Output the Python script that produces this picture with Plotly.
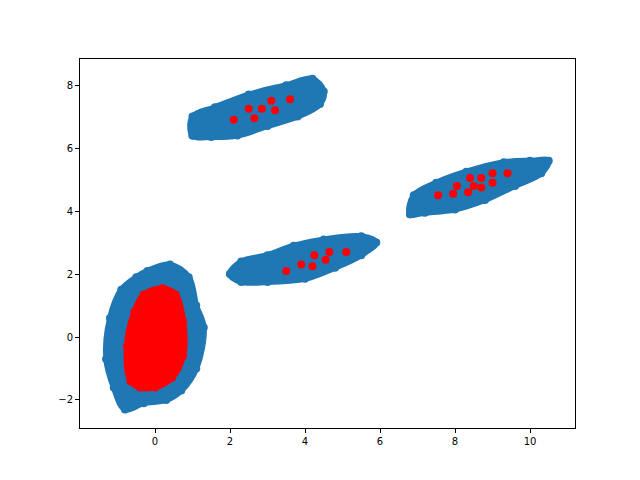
import plotly.graph_objects as go

# blue clouds drawn as their outline
cloud_a_x = [1.0, 1.0, 1.6, 2.5, 3.5, 4.2, 4.5, 4.4, 3.8, 3.0, 2.2, 1.5]
cloud_a_y = [6.4, 7.0, 7.3, 7.7, 8.0, 8.2, 7.8, 7.4, 7.0, 6.7, 6.4, 6.35]
cloud_b_x = [2.0, 2.3, 3.0, 3.7, 4.5, 5.5, 5.9, 5.5, 4.8, 4.0, 3.0, 2.3]
cloud_b_y = [2.0, 2.4, 2.6, 2.9, 3.1, 3.2, 3.0, 2.6, 2.2, 1.85, 1.75, 1.75]
cloud_c_x = [6.8, 6.9, 7.5, 8.3, 9.3, 10.0, 10.5, 10.3, 9.6, 8.8, 8.0, 7.2]
cloud_c_y = [3.9, 4.5, 4.9, 5.25, 5.55, 5.6, 5.6, 5.2, 4.8, 4.35, 4.05, 3.95]
cloud_d_x = [-1.3, -1.2, -0.9, -0.5, -0.2, 0.4, 0.9, 1.1, 1.3, 1.1, 0.7, 0.3, -0.3, -0.8, -1.1]
cloud_d_y = [-0.7, 0.6, 1.5, 1.9, 2.1, 2.3, 1.9, 1.0, 0.3, -1.0, -1.7, -2.0, -2.1, -2.3, -1.6]

# red blob in bottom-left cloud
red_blob_x = [-0.65, -0.75, -0.55, -0.3, 0.2, 0.55, 0.75, 0.75, 0.45, 0.0, -0.4]
red_blob_y = [-1.4, -0.3, 0.8, 1.35, 1.55, 1.35, 0.5, -0.6, -1.3, -1.6, -1.6]

# individual red points
red_x = [2.1, 2.5, 2.65, 2.85, 3.1, 3.2, 3.6,
         3.5, 3.9, 4.2, 4.25, 4.55, 4.65, 5.1,
         7.55, 7.95, 8.05, 8.35, 8.4, 8.5, 8.7, 8.7, 9.0, 9.0, 9.4]
red_y = [6.9, 7.25, 6.95, 7.25, 7.5, 7.2, 7.55,
         2.1, 2.3, 2.25, 2.6, 2.45, 2.7, 2.7,
         4.5, 4.55, 4.8, 4.6, 5.05, 4.8, 4.75, 5.05, 5.2, 4.9, 5.2]

blue = "#1f77b4"
fig = go.Figure()

def blob(xs, ys, color):
    fig.add_trace(go.Scatter(
        x=xs + xs[:1], y=ys + ys[:1], mode="lines+markers", fill="toself",
        fillcolor=color, line=dict(color=color, width=6, shape="spline"),
        marker=dict(color=color, size=8), showlegend=False, hoverinfo="skip"))

for xs, ys in [(cloud_a_x, cloud_a_y), (cloud_b_x, cloud_b_y),
               (cloud_c_x, cloud_c_y), (cloud_d_x, cloud_d_y)]:
    blob(xs, ys, blue)
blob(red_blob_x, red_blob_y, "red")

fig.add_trace(go.Scatter(x=red_x, y=red_y, mode="markers",
                         marker=dict(color="red", size=8), showlegend=False))

axis = dict(showgrid=False, zeroline=False, showline=True, linecolor="black",
            mirror=True, ticks="outside", ticklen=4, tickcolor="black",
            automargin=False,
            tickfont=dict(family="DejaVu Sans", size=10, color="black"))
fig.update_layout(
    width=640, height=480, plot_bgcolor="white", paper_bgcolor="white",
    margin=dict(l=72, r=73, t=51, b=60),
    xaxis=dict(range=[-2.0, 11.2], tickvals=[0, 2, 4, 6, 8, 10], **axis),
    yaxis=dict(range=[-2.89, 8.83], tickvals=[-2, 0, 2, 4, 6, 8], **axis),
)
fig.write_html("out.html")
